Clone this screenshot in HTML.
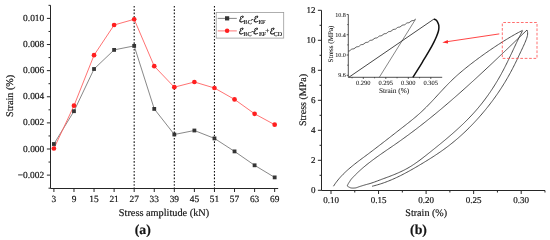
<!DOCTYPE html><html><head><meta charset="utf-8"><title>Strain and stress plots</title><style>html,body{margin:0;padding:0;background:#fff;overflow:hidden;}svg{display:block;}text{font-family:"Liberation Serif","DejaVu Serif",serif;fill:#141414;stroke:#141414;stroke-width:0.18px;text-rendering:geometricPrecision;}.sm{stroke-width:0.06px;}.e{font-family:"DejaVu Math TeX Gyre","DejaVu Sans",serif;stroke-width:0.3px;}</style></head><body>
<svg width="550" height="240" viewBox="0 0 550 240">
<rect width="550" height="240" fill="#fff"/>
<line x1="134.18" y1="6" x2="134.18" y2="188" stroke="#111" stroke-width="1.1" stroke-dasharray="1.6,1.7"/>
<line x1="174.32" y1="6" x2="174.32" y2="188" stroke="#111" stroke-width="1.1" stroke-dasharray="1.6,1.7"/>
<line x1="214.46" y1="6" x2="214.46" y2="188" stroke="#111" stroke-width="1.1" stroke-dasharray="1.6,1.7"/>
<path d="M50.5,5.3 V188.5 H278.2" fill="none" stroke="#262626" stroke-width="1"/>
<line x1="48.5" y1="188.18" x2="50.5" y2="188.18" stroke="#262626" stroke-width="1"/>
<line x1="46.9" y1="175.12" x2="50.5" y2="175.12" stroke="#262626" stroke-width="1"/>
<text x="44.2" y="177.62" font-size="9.4" text-anchor="end">−0.002</text>
<line x1="48.5" y1="162.06" x2="50.5" y2="162.06" stroke="#262626" stroke-width="1"/>
<line x1="46.9" y1="149" x2="50.5" y2="149" stroke="#262626" stroke-width="1"/>
<text x="44.2" y="151.5" font-size="9.4" text-anchor="end">0.000</text>
<line x1="48.5" y1="135.94" x2="50.5" y2="135.94" stroke="#262626" stroke-width="1"/>
<line x1="46.9" y1="122.88" x2="50.5" y2="122.88" stroke="#262626" stroke-width="1"/>
<text x="44.2" y="125.38" font-size="9.4" text-anchor="end">0.002</text>
<line x1="48.5" y1="109.82" x2="50.5" y2="109.82" stroke="#262626" stroke-width="1"/>
<line x1="46.9" y1="96.76" x2="50.5" y2="96.76" stroke="#262626" stroke-width="1"/>
<text x="44.2" y="99.26" font-size="9.4" text-anchor="end">0.004</text>
<line x1="48.5" y1="83.7" x2="50.5" y2="83.7" stroke="#262626" stroke-width="1"/>
<line x1="46.9" y1="70.64" x2="50.5" y2="70.64" stroke="#262626" stroke-width="1"/>
<text x="44.2" y="73.14" font-size="9.4" text-anchor="end">0.006</text>
<line x1="48.5" y1="57.58" x2="50.5" y2="57.58" stroke="#262626" stroke-width="1"/>
<line x1="46.9" y1="44.52" x2="50.5" y2="44.52" stroke="#262626" stroke-width="1"/>
<text x="44.2" y="47.02" font-size="9.4" text-anchor="end">0.008</text>
<line x1="48.5" y1="31.46" x2="50.5" y2="31.46" stroke="#262626" stroke-width="1"/>
<line x1="46.9" y1="18.4" x2="50.5" y2="18.4" stroke="#262626" stroke-width="1"/>
<text x="44.2" y="20.9" font-size="9.4" text-anchor="end">0.010</text>
<line x1="48.5" y1="5.34" x2="50.5" y2="5.34" stroke="#262626" stroke-width="1"/>
<line x1="53.9" y1="188.5" x2="53.9" y2="192" stroke="#262626" stroke-width="1"/>
<text x="53.9" y="202" font-size="9.4" text-anchor="middle">3</text>
<line x1="73.97" y1="188.5" x2="73.97" y2="192" stroke="#262626" stroke-width="1"/>
<text x="73.97" y="202" font-size="9.4" text-anchor="middle">9</text>
<line x1="94.04" y1="188.5" x2="94.04" y2="192" stroke="#262626" stroke-width="1"/>
<text x="94.04" y="202" font-size="9.4" text-anchor="middle">15</text>
<line x1="114.11" y1="188.5" x2="114.11" y2="192" stroke="#262626" stroke-width="1"/>
<text x="114.11" y="202" font-size="9.4" text-anchor="middle">21</text>
<line x1="134.18" y1="188.5" x2="134.18" y2="192" stroke="#262626" stroke-width="1"/>
<text x="134.18" y="202" font-size="9.4" text-anchor="middle">27</text>
<line x1="154.25" y1="188.5" x2="154.25" y2="192" stroke="#262626" stroke-width="1"/>
<text x="154.25" y="202" font-size="9.4" text-anchor="middle">33</text>
<line x1="174.32" y1="188.5" x2="174.32" y2="192" stroke="#262626" stroke-width="1"/>
<text x="174.32" y="202" font-size="9.4" text-anchor="middle">39</text>
<line x1="194.39" y1="188.5" x2="194.39" y2="192" stroke="#262626" stroke-width="1"/>
<text x="194.39" y="202" font-size="9.4" text-anchor="middle">45</text>
<line x1="214.46" y1="188.5" x2="214.46" y2="192" stroke="#262626" stroke-width="1"/>
<text x="214.46" y="202" font-size="9.4" text-anchor="middle">51</text>
<line x1="234.53" y1="188.5" x2="234.53" y2="192" stroke="#262626" stroke-width="1"/>
<text x="234.53" y="202" font-size="9.4" text-anchor="middle">57</text>
<line x1="254.6" y1="188.5" x2="254.6" y2="192" stroke="#262626" stroke-width="1"/>
<text x="254.6" y="202" font-size="9.4" text-anchor="middle">63</text>
<line x1="274.67" y1="188.5" x2="274.67" y2="192" stroke="#262626" stroke-width="1"/>
<text x="274.67" y="202" font-size="9.4" text-anchor="middle">69</text>
<text x="164" y="215.6" font-size="10.3" text-anchor="middle">Stress amplitude (kN)</text>
<text transform="translate(12.6,95.9) rotate(-90)" font-size="10.2" text-anchor="middle">Strain (%)</text>
<text x="142.7" y="234.2" font-size="13.8" font-weight="bold" text-anchor="middle">(a)</text>
<polyline points="53.9,144 73.97,111.2 94.04,69 114.11,49.9 134.18,45.9 154.25,108.9 174.32,134.5 194.39,130.5 214.46,138.4 234.53,151.4 254.6,165.3 274.67,177.4" fill="none" stroke="#6a6a6a" stroke-width="0.8"/>
<polyline points="53.9,148.5 73.97,105.7 94.04,55.2 114.11,25 134.18,19.3 154.25,66.2 174.32,87.2 194.39,82 214.46,88 234.53,99.4 254.6,113.8 274.67,124.7" fill="none" stroke="#ff6262" stroke-width="0.9"/>
<rect x="52" y="142.1" width="3.8" height="3.8" fill="#353535"/>
<rect x="72.07" y="109.3" width="3.8" height="3.8" fill="#353535"/>
<rect x="92.14" y="67.1" width="3.8" height="3.8" fill="#353535"/>
<rect x="112.21" y="48" width="3.8" height="3.8" fill="#353535"/>
<rect x="132.28" y="44" width="3.8" height="3.8" fill="#353535"/>
<rect x="152.35" y="107" width="3.8" height="3.8" fill="#353535"/>
<rect x="172.42" y="132.6" width="3.8" height="3.8" fill="#353535"/>
<rect x="192.49" y="128.6" width="3.8" height="3.8" fill="#353535"/>
<rect x="212.56" y="136.5" width="3.8" height="3.8" fill="#353535"/>
<rect x="232.63" y="149.5" width="3.8" height="3.8" fill="#353535"/>
<rect x="252.7" y="163.4" width="3.8" height="3.8" fill="#353535"/>
<rect x="272.77" y="175.5" width="3.8" height="3.8" fill="#353535"/>
<circle cx="53.9" cy="148.5" r="2.35" fill="#ff1f1f"/>
<circle cx="73.97" cy="105.7" r="2.35" fill="#ff1f1f"/>
<circle cx="94.04" cy="55.2" r="2.35" fill="#ff1f1f"/>
<circle cx="114.11" cy="25" r="2.35" fill="#ff1f1f"/>
<circle cx="134.18" cy="19.3" r="2.35" fill="#ff1f1f"/>
<circle cx="154.25" cy="66.2" r="2.35" fill="#ff1f1f"/>
<circle cx="174.32" cy="87.2" r="2.35" fill="#ff1f1f"/>
<circle cx="194.39" cy="82" r="2.35" fill="#ff1f1f"/>
<circle cx="214.46" cy="88" r="2.35" fill="#ff1f1f"/>
<circle cx="234.53" cy="99.4" r="2.35" fill="#ff1f1f"/>
<circle cx="254.6" cy="113.8" r="2.35" fill="#ff1f1f"/>
<circle cx="274.67" cy="124.7" r="2.35" fill="#ff1f1f"/>
<rect x="216.2" y="12.4" width="67.5" height="25.7" fill="#fff" stroke="#9a9a9a" stroke-width="0.8"/>
<line x1="217.7" y1="18.4" x2="236.8" y2="18.4" stroke="#777" stroke-width="0.9"/>
<rect x="225" y="16.25" width="4.2" height="4.2" fill="#353535"/>
<line x1="217.7" y1="30.85" x2="236.8" y2="30.85" stroke="#ffa3a3" stroke-width="1.5"/>
<circle cx="227.1" cy="30.85" r="2.25" fill="#ff1f1f"/>
<text class="e" x="238.7" y="21.5" font-size="8.1">ℰ</text>
<text x="243.6" y="24.2" font-size="6.1">BC</text>
<text x="251.2" y="20.9" font-size="6.6">-</text>
<text class="e" x="253.2" y="21.5" font-size="8.1">ℰ</text>
<text x="258.4" y="24.2" font-size="6.1">EF</text>
<text class="e" x="238.45" y="33.6" font-size="8.1">ℰ</text>
<text x="243.4" y="36.3" font-size="6.1">BC</text>
<text x="251.4" y="32.95" font-size="6.6">-</text>
<text class="e" x="252.9" y="33.6" font-size="8.1">ℰ</text>
<text x="258.9" y="36.3" font-size="6.1">EF</text>
<text x="265.2" y="33.2" font-size="7.3">+</text>
<text class="e" x="269.4" y="33.6" font-size="8.1">ℰ</text>
<text x="273.6" y="36.3" font-size="6.1">CD</text>
<path d="M321.5,10.3 V190.5 H545" fill="none" stroke="#262626" stroke-width="1"/>
<line x1="317.9" y1="190.3" x2="321.5" y2="190.3" stroke="#262626" stroke-width="1"/>
<text x="315.6" y="193.3" font-size="9" text-anchor="end">0</text>
<line x1="319.5" y1="175.3" x2="321.5" y2="175.3" stroke="#262626" stroke-width="1"/>
<line x1="317.9" y1="160.3" x2="321.5" y2="160.3" stroke="#262626" stroke-width="1"/>
<text x="315.6" y="163.3" font-size="9" text-anchor="end">2</text>
<line x1="319.5" y1="145.3" x2="321.5" y2="145.3" stroke="#262626" stroke-width="1"/>
<line x1="317.9" y1="130.3" x2="321.5" y2="130.3" stroke="#262626" stroke-width="1"/>
<text x="315.6" y="133.3" font-size="9" text-anchor="end">4</text>
<line x1="319.5" y1="115.3" x2="321.5" y2="115.3" stroke="#262626" stroke-width="1"/>
<line x1="317.9" y1="100.3" x2="321.5" y2="100.3" stroke="#262626" stroke-width="1"/>
<text x="315.6" y="103.3" font-size="9" text-anchor="end">6</text>
<line x1="319.5" y1="85.3" x2="321.5" y2="85.3" stroke="#262626" stroke-width="1"/>
<line x1="317.9" y1="70.3" x2="321.5" y2="70.3" stroke="#262626" stroke-width="1"/>
<text x="315.6" y="73.3" font-size="9" text-anchor="end">8</text>
<line x1="319.5" y1="55.3" x2="321.5" y2="55.3" stroke="#262626" stroke-width="1"/>
<line x1="317.9" y1="40.3" x2="321.5" y2="40.3" stroke="#262626" stroke-width="1"/>
<text x="315.6" y="43.3" font-size="9" text-anchor="end">10</text>
<line x1="319.5" y1="25.3" x2="321.5" y2="25.3" stroke="#262626" stroke-width="1"/>
<line x1="317.9" y1="10.3" x2="321.5" y2="10.3" stroke="#262626" stroke-width="1"/>
<text x="315.6" y="13.3" font-size="9" text-anchor="end">12</text>
<line x1="331" y1="190.5" x2="331" y2="194" stroke="#262626" stroke-width="1"/>
<text x="331" y="202.7" font-size="9" text-anchor="middle">0.10</text>
<line x1="354.77" y1="190.5" x2="354.77" y2="192.5" stroke="#262626" stroke-width="1"/>
<line x1="378.55" y1="190.5" x2="378.55" y2="194" stroke="#262626" stroke-width="1"/>
<text x="378.55" y="202.7" font-size="9" text-anchor="middle">0.15</text>
<line x1="402.33" y1="190.5" x2="402.33" y2="192.5" stroke="#262626" stroke-width="1"/>
<line x1="426.1" y1="190.5" x2="426.1" y2="194" stroke="#262626" stroke-width="1"/>
<text x="426.1" y="202.7" font-size="9" text-anchor="middle">0.20</text>
<line x1="449.88" y1="190.5" x2="449.88" y2="192.5" stroke="#262626" stroke-width="1"/>
<line x1="473.65" y1="190.5" x2="473.65" y2="194" stroke="#262626" stroke-width="1"/>
<text x="473.65" y="202.7" font-size="9" text-anchor="middle">0.25</text>
<line x1="497.43" y1="190.5" x2="497.43" y2="192.5" stroke="#262626" stroke-width="1"/>
<line x1="521.2" y1="190.5" x2="521.2" y2="194" stroke="#262626" stroke-width="1"/>
<text x="521.2" y="202.7" font-size="9" text-anchor="middle">0.30</text>
<line x1="544.98" y1="190.5" x2="544.98" y2="192.5" stroke="#262626" stroke-width="1"/>
<text x="426.2" y="215.6" font-size="10.1" text-anchor="middle">Strain (%)</text>
<text transform="translate(306.3,100) rotate(-90)" font-size="10" text-anchor="middle">Stress (MPa)</text>
<text x="418.5" y="234.2" font-size="13.8" font-weight="bold" text-anchor="middle">(b)</text>
<path d="M333.49,186.24 L334.33,184.93 L335.21,183.65 L336.12,182.39 L337.05,181.16 L338.01,179.95 L338.99,178.77 L340.00,177.60 L341.03,176.46 L342.09,175.34 L343.16,174.23 L344.25,173.15 L345.36,172.08 L346.49,171.03 L347.63,169.99 L348.79,168.97 L349.97,167.96 L351.15,166.96 L352.35,165.97 L353.56,165.00 L354.78,164.03 L356.00,163.07 L357.23,162.12 L358.47,161.17 L359.72,160.23 L360.96,159.30 L362.21,158.37 L363.47,157.44 L364.72,156.51 L365.97,155.58 L367.22,154.65 L368.47,153.72 L369.71,152.79 L370.95,151.85 L372.19,150.92 L373.43,149.98 L374.66,149.04 L375.89,148.10 L377.12,147.16 L378.35,146.22 L379.57,145.28 L380.80,144.34 L382.02,143.39 L383.24,142.45 L384.46,141.50 L385.68,140.55 L386.90,139.60 L388.12,138.66 L389.34,137.71 L390.55,136.76 L391.77,135.81 L392.99,134.86 L394.20,133.91 L395.42,132.96 L396.64,132.01 L397.86,131.06 L399.07,130.11 L400.29,129.16 L401.51,128.21 L402.74,127.26 L403.96,126.31 L405.18,125.36 L406.40,124.41 L407.61,123.45 L408.83,122.49 L410.04,121.52 L411.24,120.55 L412.44,119.58 L413.64,118.59 L414.83,117.61 L416.01,116.61 L417.18,115.60 L418.35,114.59 L419.51,113.56 L420.65,112.53 L421.79,111.48 L422.92,110.42 L424.03,109.35 L425.14,108.27 L426.24,107.18 L427.33,106.08 L428.41,104.98 L429.48,103.87 L430.56,102.75 L431.62,101.63 L432.68,100.50 L433.74,99.36 L434.80,98.23 L435.85,97.09 L436.90,95.95 L437.95,94.81 L439.00,93.67 L440.05,92.53 L441.10,91.39 L442.16,90.26 L443.22,89.12 L444.28,87.99 L445.34,86.87 L446.41,85.75 L447.49,84.64 L448.57,83.53 L449.66,82.43 L450.76,81.34 L451.86,80.26 L452.98,79.19 L454.10,78.13 L455.24,77.08 L456.38,76.04 L457.53,75.01 L458.70,73.99 L459.87,72.97 L461.04,71.97 L462.23,70.97 L463.42,69.98 L464.61,69.00 L465.82,68.03 L467.02,67.06 L468.24,66.10 L469.45,65.14 L470.68,64.19 L471.90,63.24 L473.13,62.30 L474.36,61.36 L475.60,60.42 L476.84,59.50 L478.09,58.57 L479.33,57.65 L480.59,56.74 L481.84,55.83 L483.10,54.93 L484.36,54.03 L485.63,53.13 L486.90,52.24 L488.17,51.36 L489.44,50.48 L490.72,49.60 L492.01,48.73 L493.29,47.87 L494.58,47.01 L495.87,46.15 L497.17,45.30 L498.46,44.46 L499.76,43.62 L501.07,42.78 L502.37,41.95 L503.68,41.13 L505.00,40.31 L506.31,39.50 L507.63,38.69 L508.96,37.89 L510.29,37.10 L511.62,36.32 L512.96,35.55 L514.30,34.78 L515.65,34.02 L517.01,33.28 L518.37,32.54 L519.74,31.82 L521.12,31.10 L522.50,30.40" fill="none" stroke="#3a3a3a" stroke-width="0.9" stroke-linejoin="round"/>
<path d="M522.50,30.80 L521.89,31.96 L521.29,33.13 L520.69,34.30 L520.09,35.47 L519.50,36.65 L518.92,37.83 L518.34,39.01 L517.76,40.20 L517.19,41.38 L516.62,42.57 L516.05,43.76 L515.48,44.96 L514.92,46.15 L514.36,47.35 L513.79,48.54 L513.23,49.74 L512.67,50.93 L512.11,52.13 L511.55,53.33 L510.98,54.53 L510.42,55.72 L509.85,56.92 L509.29,58.11 L508.72,59.30 L508.14,60.50 L507.57,61.69 L506.99,62.87 L506.40,64.06 L505.81,65.24 L505.22,66.42 L504.62,67.60 L504.02,68.78 L503.41,69.95 L502.79,71.12 L502.17,72.28 L501.54,73.44 L500.91,74.60 L500.27,75.75 L499.62,76.90 L498.96,78.05 L498.30,79.19 L497.64,80.32 L496.96,81.46 L496.28,82.59 L495.59,83.71 L494.90,84.83 L494.20,85.95 L493.49,87.06 L492.78,88.16 L492.06,89.27 L491.33,90.36 L490.60,91.45 L489.86,92.54 L489.11,93.62 L488.35,94.70 L487.59,95.77 L486.82,96.84 L486.05,97.90 L485.27,98.96 L484.48,100.01 L483.68,101.06 L482.88,102.10 L482.07,103.13 L481.25,104.16 L480.43,105.19 L479.59,106.21 L478.76,107.22 L477.91,108.22 L477.06,109.23 L476.20,110.22 L475.33,111.21 L474.46,112.19 L473.57,113.17 L472.69,114.14 L471.79,115.10 L470.89,116.06 L469.98,117.02 L469.07,117.97 L468.15,118.91 L467.23,119.85 L466.30,120.78 L465.36,121.71 L464.42,122.64 L463.47,123.55 L462.52,124.47 L461.56,125.38 L460.60,126.29 L459.63,127.19 L458.66,128.08 L457.69,128.98 L456.71,129.87 L455.73,130.75 L454.74,131.63 L453.75,132.51 L452.76,133.39 L451.76,134.26 L450.76,135.13 L449.76,135.99 L448.75,136.85 L447.75,137.71 L446.73,138.56 L445.72,139.42 L444.71,140.27 L443.69,141.11 L442.67,141.96 L441.65,142.80 L440.62,143.64 L439.60,144.48 L438.57,145.32 L437.55,146.15 L436.52,146.98 L435.49,147.81 L434.46,148.64 L433.43,149.47 L432.40,150.29 L431.37,151.12 L430.34,151.94 L429.31,152.76 L428.28,153.58 L427.25,154.40 L426.22,155.22 L425.19,156.03 L424.15,156.84 L423.12,157.64 L422.08,158.44 L421.03,159.24 L419.99,160.02 L418.93,160.80 L417.87,161.57 L416.81,162.33 L415.74,163.08 L414.66,163.82 L413.57,164.55 L412.47,165.27 L411.37,165.97 L410.25,166.66 L409.13,167.34 L407.99,168.00 L406.84,168.64 L405.68,169.27 L404.51,169.88 L403.33,170.48 L402.14,171.06 L400.94,171.63 L399.74,172.19 L398.52,172.74 L397.31,173.27 L396.08,173.79 L394.86,174.31 L393.62,174.81 L392.39,175.30 L391.15,175.79 L389.92,176.27 L388.68,176.74 L387.44,177.20 L386.20,177.66 L384.96,178.11 L383.73,178.56 L382.50,179.00 L381.67,179.31 L380.53,179.75 L379.18,180.26 L377.69,180.82 L376.14,181.41 L374.62,181.97 L373.22,182.48 L372.00,182.90 L370.95,183.24 L369.97,183.54 L369.05,183.80 L368.19,184.04 L367.36,184.26 L366.56,184.47 L365.78,184.68 L365.00,184.90 L364.23,185.13 L363.48,185.36 L362.76,185.58 L362.06,185.79 L361.38,186.00 L360.73,186.21 L360.10,186.41 L359.50,186.60 L358.94,186.79 L358.42,186.98 L357.93,187.17 L357.47,187.35 L357.01,187.52 L356.56,187.67 L356.09,187.80 L355.60,187.90 L355.08,187.98 L354.53,188.03 L353.97,188.07 L353.41,188.09 L352.86,188.09 L352.33,188.07 L351.84,188.04 L351.40,188.00 L351.01,187.94 L350.66,187.85 L350.34,187.74 L350.05,187.62 L349.78,187.50 L349.52,187.36 L349.26,187.23 L349.00,187.10 L348.73,186.96 L348.47,186.81 L348.20,186.65 L347.95,186.49 L347.72,186.34 L347.51,186.20 L347.33,186.09 L347.20,186.00" fill="none" stroke="#3a3a3a" stroke-width="0.9" stroke-linejoin="round"/>
<path d="M347.20,186.00 L347.27,185.85 L347.35,185.64 L347.46,185.39 L347.57,185.12 L347.70,184.83 L347.83,184.54 L347.97,184.26 L348.10,184.00 L348.23,183.77 L348.36,183.55 L348.48,183.34 L348.62,183.12 L348.76,182.90 L348.92,182.66 L349.10,182.40 L349.30,182.10 L349.52,181.77 L349.74,181.41 L349.98,181.03 L350.23,180.64 L350.51,180.22 L350.81,179.79 L351.14,179.35 L351.50,178.90 L351.93,178.40 L352.45,177.84 L353.01,177.25 L353.59,176.65 L354.15,176.08 L354.66,175.56 L355.09,175.12 L355.40,174.80 L356.41,173.80 L357.43,172.81 L358.46,171.83 L359.50,170.87 L360.55,169.92 L361.61,168.98 L362.67,168.05 L363.75,167.14 L364.83,166.23 L365.92,165.33 L367.02,164.44 L368.12,163.57 L369.24,162.69 L370.35,161.83 L371.48,160.98 L372.60,160.13 L373.74,159.29 L374.88,158.45 L376.02,157.62 L377.17,156.79 L378.32,155.97 L379.47,155.16 L380.63,154.35 L381.78,153.54 L382.95,152.73 L384.11,151.93 L385.27,151.12 L386.44,150.32 L387.61,149.52 L388.77,148.72 L389.94,147.93 L391.11,147.13 L392.28,146.33 L393.44,145.52 L394.61,144.72 L395.77,143.92 L396.93,143.11 L398.09,142.30 L399.25,141.48 L400.40,140.66 L401.55,139.84 L402.70,139.02 L403.85,138.19 L404.99,137.36 L406.14,136.53 L407.28,135.70 L408.42,134.86 L409.55,134.02 L410.69,133.17 L411.82,132.33 L412.95,131.48 L414.08,130.63 L415.21,129.77 L416.33,128.92 L417.46,128.06 L418.58,127.20 L419.70,126.33 L420.81,125.46 L421.93,124.59 L423.04,123.72 L424.15,122.85 L425.26,121.97 L426.37,121.09 L427.47,120.21 L428.58,119.33 L429.68,118.44 L430.78,117.55 L431.88,116.66 L432.98,115.77 L434.07,114.88 L435.17,113.98 L436.26,113.08 L437.35,112.18 L438.44,111.28 L439.52,110.37 L440.61,109.47 L441.69,108.56 L442.77,107.65 L443.85,106.73 L444.93,105.82 L446.01,104.90 L447.09,103.99 L448.16,103.07 L449.24,102.15 L450.31,101.22 L451.38,100.30 L452.45,99.37 L453.51,98.44 L454.58,97.51 L455.64,96.58 L456.71,95.65 L457.77,94.72 L458.83,93.78 L459.89,92.85 L460.95,91.91 L462.01,90.97 L463.06,90.03 L464.12,89.09 L465.17,88.14 L466.22,87.20 L467.27,86.25 L468.32,85.30 L469.37,84.35 L470.42,83.40 L471.47,82.45 L472.51,81.50 L473.56,80.55 L474.60,79.59 L475.65,78.64 L476.69,77.68 L477.73,76.72 L478.77,75.76 L479.81,74.81 L480.85,73.84 L481.88,72.88 L482.92,71.92 L483.96,70.96 L484.99,69.99 L486.03,69.03 L487.06,68.06 L488.09,67.10 L489.13,66.13 L490.16,65.16 L491.19,64.19 L492.22,63.22 L493.25,62.25 L494.28,61.28 L495.30,60.31 L496.33,59.34 L497.36,58.36 L498.39,57.39 L499.41,56.41 L500.44,55.44 L501.46,54.47 L502.49,53.49 L503.51,52.51 L504.54,51.54 L505.56,50.56 L506.58,49.58 L507.61,48.61 L508.63,47.63 L509.65,46.65 L510.67,45.67 L511.69,44.69 L512.72,43.71 L513.74,42.74 L514.76,41.76 L515.78,40.78 L516.80,39.80 L517.82,38.82 L518.84,37.84 L519.86,36.86 L520.88,35.88 L521.90,34.90 L522.92,33.92 L523.94,32.94 L524.96,31.96 L525.98,30.98 L527.00,30.00" fill="none" stroke="#3a3a3a" stroke-width="0.9" stroke-linejoin="round"/>
<path d="M527.00,30.00 L527.43,31.35 L527.62,32.71 L527.62,34.08 L527.44,35.47 L527.12,36.85 L526.69,38.24 L526.19,39.61 L525.65,40.98 L525.08,42.34 L524.50,43.68 L523.91,45.02 L523.31,46.34 L522.70,47.66 L522.08,48.98 L521.46,50.29 L520.84,51.61 L520.22,52.92 L519.60,54.23 L518.98,55.54 L518.35,56.85 L517.73,58.16 L517.10,59.47 L516.47,60.78 L515.83,62.08 L515.19,63.39 L514.55,64.69 L513.90,65.98 L513.24,67.27 L512.58,68.56 L511.91,69.85 L511.23,71.13 L510.55,72.40 L509.85,73.67 L509.15,74.94 L508.44,76.20 L507.73,77.46 L507.01,78.71 L506.27,79.96 L505.54,81.20 L504.79,82.44 L504.04,83.67 L503.28,84.90 L502.51,86.12 L501.73,87.34 L500.95,88.55 L500.16,89.76 L499.36,90.97 L498.55,92.17 L497.74,93.36 L496.92,94.55 L496.10,95.73 L495.26,96.91 L494.42,98.09 L493.57,99.26 L492.72,100.42 L491.85,101.58 L490.98,102.73 L490.11,103.88 L489.22,105.02 L488.33,106.16 L487.44,107.30 L486.53,108.42 L485.62,109.55 L484.70,110.67 L483.78,111.78 L482.84,112.89 L481.91,113.99 L480.96,115.08 L480.01,116.18 L479.05,117.26 L478.08,118.34 L477.11,119.42 L476.13,120.49 L475.15,121.55 L474.15,122.61 L473.16,123.67 L472.15,124.71 L471.14,125.76 L470.12,126.79 L469.10,127.82 L468.07,128.84 L467.03,129.86 L465.99,130.87 L464.94,131.87 L463.88,132.86 L462.82,133.85 L461.75,134.83 L460.68,135.80 L459.60,136.76 L458.52,137.72 L457.43,138.66 L456.33,139.60 L455.23,140.53 L454.12,141.45 L453.01,142.37 L451.89,143.27 L450.76,144.17 L449.63,145.06 L448.49,145.94 L447.34,146.81 L446.19,147.67 L445.03,148.53 L443.86,149.38 L442.69,150.22 L441.51,151.06 L440.33,151.88 L439.13,152.70 L437.94,153.52 L436.74,154.32 L435.53,155.12 L434.32,155.92 L433.10,156.71 L431.88,157.49 L430.66,158.27 L429.43,159.05 L428.20,159.81 L426.96,160.58 L425.72,161.34 L424.48,162.10 L423.24,162.85 L422.00,163.60 L420.75,164.35 L419.50,165.09 L418.25,165.83 L417.00,166.57 L415.75,167.30 L414.50,168.03 L413.24,168.75 L411.98,169.47 L410.72,170.18 L409.45,170.89 L408.19,171.59 L406.92,172.28 L405.64,172.96 L404.36,173.64 L403.08,174.31 L401.80,174.97 L400.51,175.62 L399.21,176.26 L397.91,176.89 L396.61,177.50 L395.30,178.11 L393.99,178.71 L392.67,179.29 L391.34,179.86 L390.01,180.42 L388.68,180.96 L387.33,181.49 L385.99,182.00 L384.63,182.50 L383.27,182.99 L381.90,183.46 L380.52,183.91 L379.14,184.34 L377.75,184.76 L376.35,185.16 L374.94,185.54 L373.52,185.91 L372.10,186.25" fill="none" stroke="#3a3a3a" stroke-width="0.9" stroke-linejoin="round"/>
<rect x="502.3" y="22.5" width="34.7" height="35.9" fill="none" stroke="#ff5555" stroke-width="0.85" stroke-dasharray="2.7,1.7" stroke-dashoffset="-1"/>
<line x1="499.3" y1="33.9" x2="447" y2="41.7" stroke="#ff3030" stroke-width="0.9"/>
<path d="M442.3,42.5 L447.8,40.1 L448.1,43.4 Z" fill="#ff2a2a"/>
<path d="M348.3,14.46 V77.3 H442.2" fill="none" stroke="#262626" stroke-width="0.8"/>
<line x1="346.7" y1="75.3" x2="348.3" y2="75.3" stroke="#262626" stroke-width="0.8"/>
<text class="sm" x="345.9" y="77.4" font-size="6.1" text-anchor="end">9.6</text>
<line x1="347.3" y1="65.16" x2="348.3" y2="65.16" stroke="#262626" stroke-width="0.8"/>
<line x1="346.7" y1="55.02" x2="348.3" y2="55.02" stroke="#262626" stroke-width="0.8"/>
<text class="sm" x="345.9" y="57.12" font-size="6.1" text-anchor="end">10.0</text>
<line x1="347.3" y1="44.88" x2="348.3" y2="44.88" stroke="#262626" stroke-width="0.8"/>
<line x1="346.7" y1="34.74" x2="348.3" y2="34.74" stroke="#262626" stroke-width="0.8"/>
<text class="sm" x="345.9" y="36.84" font-size="6.1" text-anchor="end">10.4</text>
<line x1="347.3" y1="24.6" x2="348.3" y2="24.6" stroke="#262626" stroke-width="0.8"/>
<line x1="346.7" y1="14.46" x2="348.3" y2="14.46" stroke="#262626" stroke-width="0.8"/>
<text class="sm" x="345.9" y="16.56" font-size="6.1" text-anchor="end">10.8</text>
<line x1="352.05" y1="77.3" x2="352.05" y2="78.3" stroke="#262626" stroke-width="0.8"/>
<line x1="363.3" y1="77.3" x2="363.3" y2="78.9" stroke="#262626" stroke-width="0.8"/>
<text class="sm" x="363.3" y="84.8" font-size="6.5" text-anchor="middle">0.290</text>
<line x1="374.55" y1="77.3" x2="374.55" y2="78.3" stroke="#262626" stroke-width="0.8"/>
<line x1="385.8" y1="77.3" x2="385.8" y2="78.9" stroke="#262626" stroke-width="0.8"/>
<text class="sm" x="385.8" y="84.8" font-size="6.5" text-anchor="middle">0.295</text>
<line x1="397.05" y1="77.3" x2="397.05" y2="78.3" stroke="#262626" stroke-width="0.8"/>
<line x1="408.3" y1="77.3" x2="408.3" y2="78.9" stroke="#262626" stroke-width="0.8"/>
<text class="sm" x="408.3" y="84.8" font-size="6.5" text-anchor="middle">0.300</text>
<line x1="419.55" y1="77.3" x2="419.55" y2="78.3" stroke="#262626" stroke-width="0.8"/>
<line x1="430.8" y1="77.3" x2="430.8" y2="78.9" stroke="#262626" stroke-width="0.8"/>
<text class="sm" x="430.8" y="84.8" font-size="6.5" text-anchor="middle">0.305</text>
<text class="sm" x="394.1" y="92.5" font-size="7.3" text-anchor="middle">Strain (%)</text>
<text class="sm" transform="translate(333.3,44) rotate(-90)" font-size="7.1" text-anchor="middle">Stress (MPa)</text>
<path d="M348.30,51.10 L349.42,50.92 L350.54,50.07 L351.66,49.16 L352.78,48.92 L353.90,48.79 L355.02,48.01 L356.14,47.05 L357.26,46.75 L358.38,46.66 L359.50,45.94 L360.62,44.95 L361.74,44.57 L362.86,44.51 L363.98,43.87 L365.10,42.86 L366.22,42.41 L367.34,42.36 L368.46,41.80 L369.58,40.78 L370.70,40.24 L371.82,40.20 L372.94,39.71 L374.06,38.70 L375.18,38.09 L376.30,38.03 L377.42,37.63 L378.54,36.63 L379.66,35.94 L380.78,35.86 L381.90,35.53 L383.02,34.57 L384.14,33.80 L385.26,33.69 L386.38,33.42 L387.50,32.50 L388.62,31.67 L389.74,31.51 L390.86,31.31 L391.98,30.44 L393.10,29.55 L394.22,29.33 L395.34,29.19 L396.46,28.38 L397.58,27.44 L398.70,27.16 L399.82,27.05 L400.94,26.31 L402.06,25.34 L403.18,24.98 L404.30,24.91 L405.42,24.24 L406.54,23.24 L407.66,22.81 L408.78,22.76 L409.90,22.17 L411.02,21.16 L412.14,20.65 L413.26,20.60 L414.38,20.09 L415.50,19.08" fill="none" stroke="#333" stroke-width="0.8"/>
<path d="M415.5,19.3 L379.3,77.3" fill="none" stroke="#333" stroke-width="0.6"/>
<path d="M348.8,77.3 L434.0,19" fill="none" stroke="#262626" stroke-width="0.85"/>
<path d="M434,19 C434.43,19.25 435.85,19.62 436.6,20.5 C437.35,21.38 438.12,23.13 438.5,24.3 C438.88,25.47 438.93,26.3 438.9,27.5 C438.87,28.7 438.7,30 438.3,31.5 C437.9,33 437.25,34.7 436.5,36.5 C435.75,38.3 434.98,39.98 433.8,42.3 C432.62,44.62 431.03,47.55 429.4,50.4 C427.77,53.25 425.83,56.35 424,59.4 C422.17,62.45 420.25,65.72 418.4,68.7 C416.55,71.68 413.82,75.87 412.9,77.3" fill="none" stroke="#111" stroke-width="1.5"/>
</svg></body></html>
